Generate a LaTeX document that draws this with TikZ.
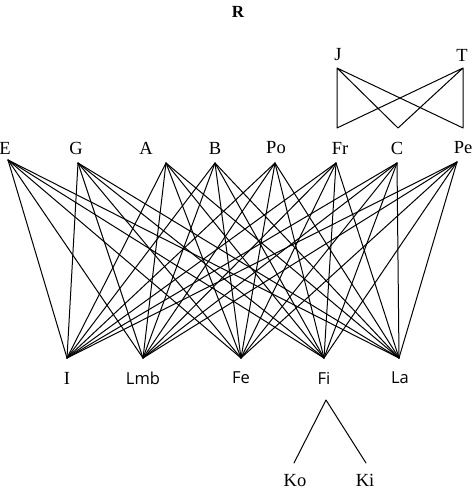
\documentclass[tikz,border=0pt]{standalone}
\usepackage{fontspec}
\setmainfont{Liberation Serif}
\newfontfamily\lblsans{Open Sans}
\begin{document}
\begin{tikzpicture}[x=1pt,y=-1pt,
  edge/.style={line width=1pt,line cap=round,line join=round},
  lbl/.style={inner sep=0pt,font=\fontsize{18.5}{21}\selectfont},
  slbl/.style={inner sep=0pt,font=\lblsans\fontsize{16.5}{19}\selectfont}]
\useasboundingbox (0,0) rectangle (474,489);
% title
\node[lbl,font=\bfseries\fontsize{17}{20}\selectfont] (R) at (238,12) {R};
% J / T group
\node[lbl] (Jl) at (338,55) {J};
\node[lbl] (Tl) at (462,55) {T};
\coordinate (J) at (337,68);
\coordinate (T) at (463,68);
\coordinate (jb1) at (337,128);
\coordinate (jb2) at (398,128);
\coordinate (jb3) at (463,128);
\draw[edge] (J) -- (jb1) (J) -- (jb2) (J) -- (jb3)
            (T) -- (jb3) (T) -- (jb2) (T) -- (jb1);
% top labels
\node[lbl] (El) at (5,148) {E};
\node[lbl] (Gl) at (76,148) {G};
\node[lbl] (Al) at (146,148) {A};
\node[lbl] (Bl) at (215,148) {B};
\node[lbl] (Pol) at (276,148) {Po};
\node[lbl] (Frl) at (340,148) {Fr};
\node[lbl] (Cl) at (397,148) {C};
\node[lbl] (Pel) at (463,148) {Pe};
% top vertices
\coordinate (E) at (8,160);
\coordinate (G) at (78,163);
\coordinate (A) at (166,163);
\coordinate (B) at (215,163);
\coordinate (Po) at (275,163);
\coordinate (Fr) at (336,163);
\coordinate (C) at (397,163);
\coordinate (Pe) at (457,162);
% bottom vertices
\coordinate (I) at (67,358);
\coordinate (Lmb) at (143,358);
\coordinate (Fe) at (241,358);
\coordinate (Fi) at (324,358);
\coordinate (La) at (399,358);
% bottom labels
\node[lbl] (Il) at (67,378) {I};
\node[slbl] (Lmbl) at (143,378) {Lmb};
\node[slbl] (Fel) at (241,378) {Fe};
\node[slbl] (Fil) at (324,378) {Fi};
\node[slbl] (Lal) at (400,378) {La};
% complete bipartite edges
\foreach \t in {E,G,A,B,Po,Fr,C,Pe}
  \foreach \b in {I,Lmb,Fe,Fi,La}
    \draw[edge] (\t) -- (\b);
% Fi subtree
\coordinate (Fa) at (326,400);
\coordinate (Koe) at (294,463);
\coordinate (Kie) at (366,463);
\draw[edge] (Koe) -- (Fa) -- (Kie);
\node[lbl,anchor=base] (Ko) at (295,486) {Ko};
\node[lbl,anchor=base] (Ki) at (365,486) {Ki};
\end{tikzpicture}
\end{document}
